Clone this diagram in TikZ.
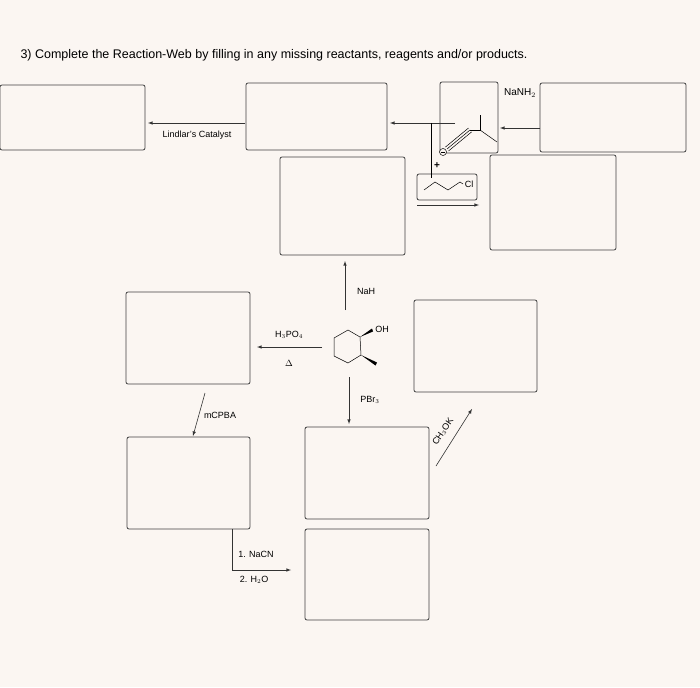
\documentclass[tikz,border=0pt]{standalone}
\usepackage{fontspec}
\setmainfont{Liberation Sans}
\tikzset{
  blank/.style={draw=black!75, line width=0.8pt, rounded corners=2pt},
  rxn/.style={draw=black!80, line width=0.6pt, -latex},
  reag/.style={font=\fontsize{9}{10}\selectfont}
}
\begin{document}
\begin{tikzpicture}[x=1pt,y=-1pt]
  \fill[white!93!brown] (0,0) rectangle (700,687);
  \useasboundingbox (0,0) rectangle (700,687);

  % title
  \node[anchor=west, font=\fontsize{12.5}{14}\selectfont] (title) at (17,55)
    {3) Complete the Reaction-Web by filling in any missing reactants, reagents and/or products.};

  % boxes
  \draw[blank] (0,85) rectangle (145,150);
  \draw[blank] (246,83) rectangle (387,150);
  \draw[blank] (440,82) rectangle (498,153);
  \draw[blank] (540,83) rectangle (686,152);
  \draw[blank] (280,157) rectangle (405,255);
  \draw[blank] (490,155) rectangle (616,250);
  \draw[blank] (417,174) rectangle (477,200);
  \draw[blank] (126,292) rectangle (250,384);
  \draw[blank] (414,300) rectangle (537,392);
  \draw[blank] (127,437) rectangle (250,529);
  \draw[blank] (305,427) rectangle (429,519);
  \draw[blank] (305,529) rectangle (429,620);

  % named points
  \coordinate (lA) at (245,123);  \coordinate (lB) at (148,123);
  \coordinate (aA) at (455,123);  \coordinate (aB) at (390,123);
  \coordinate (jn) at (431,123);  \coordinate (jd) at (431,178);
  \coordinate (cA) at (417,205);  \coordinate (cB) at (479,205);
  \coordinate (nA) at (540,128);  \coordinate (nB) at (500,128);
  \coordinate (hA) at (345,310);  \coordinate (hB) at (345,261);
  \coordinate (pA) at (322,347);  \coordinate (pB) at (257,347);
  \coordinate (rA) at (349,377);  \coordinate (rB) at (349,424);
  \coordinate (mA) at (205,393);  \coordinate (mB) at (193,436);
  \coordinate (kA) at (436,466);  \coordinate (kB) at (472,409);
  \coordinate (cnA) at (232,529); \coordinate (cnK) at (232,570);
  \coordinate (cnB) at (291,570);

  % reaction arrows
  \draw[rxn] (lA) -- (lB);
  \node[reag] (lindlar) at (197,135) {Lindlar's Catalyst};
  \draw[rxn] (aA) -- (aB);
  \draw[line width=0.6pt] (jn) -- (jd);
  \node[font=\bfseries] (plus) at (437,166) {+};
  \draw[rxn] (cA) -- (cB);
  \draw[rxn] (nA) -- (nB);
  \node[font=\fontsize{10}{11}\selectfont] (nanh) at (520,93) {NaNH$_2$};
  \draw[rxn] (hA) -- (hB);
  \node[reag] (nah) at (366,291) {NaH};
  \draw[rxn] (pA) -- (pB);
  \node[reag] (hpo) at (289,335) {H$_3$PO$_4$};
  \node[reag] (delta) at (289,363) {$\Delta$};
  \draw[rxn] (rA) -- (rB);
  \node[reag] (pbr) at (370,400) {PBr$_3$};
  \draw[rxn] (mA) -- (mB);
  \node[reag] (mcpba) at (220,415) {mCPBA};
  \draw[rxn] (kA) -- (kB);
  \node[reag, rotate=56] (ch3ok) at (443,432) {CH$_3$OK};
  \draw[rxn] (cnA) -- (cnK) -- (cnB);
  \node[reag] (nacn) at (256,554) {1. NaCN};
  \node[reag] (water) at (254,580) {2. H$_2$O};

  % alkynide
  \draw[line width=0.5pt] (447,149) -- (470,130);
  \draw[line width=0.5pt] (448.6,150.9) -- (471.6,131.9);
  \draw[line width=0.5pt] (445.4,147.1) -- (468.4,128.1);
  \draw[line width=0.5pt] (470,130) -- (480,130) -- (480,115);
  \draw[line width=0.5pt] (480,130) -- (497,142);
  \draw[line width=0.5pt, fill=white!93!brown] (443,152) circle (3.5);
  \draw[line width=0.4pt] (440.8,152) -- (445.2,152);

  % chloride
  \draw[line width=0.5pt] (424,190) -- (435,182) -- (448,190) -- (460,182) -- (463,184);
  \node[font=\fontsize{9}{10}\selectfont] (cl) at (469,184) {Cl};

  % cyclohexanol
  \draw[line width=0.5pt] (334,338) -- (348,330) -- (360,337) -- (361,355) -- (348,363) -- (334,356) -- cycle;
  \fill (360,337) -- (372,328.5) -- (373,331.5) -- cycle;
  \fill (361,355) -- (377,362.5) -- (375.5,365.5) -- cycle;
  \node[reag] (oh) at (382,329) {OH};
\end{tikzpicture}
\end{document}
